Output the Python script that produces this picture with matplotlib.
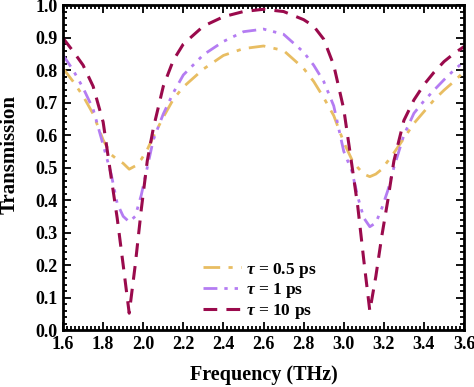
import matplotlib
matplotlib.use("Agg")
import matplotlib.pyplot as plt
from matplotlib.ticker import MultipleLocator, FormatStrFormatter

freq = [1.60, 1.65, 1.70, 1.75, 1.80, 1.84, 1.87, 1.90, 1.93, 1.96, 1.99, 2.02, 2.05,
        2.10, 2.15, 2.20, 2.30, 2.40, 2.50, 2.60, 2.70, 2.80, 2.85, 2.90, 2.95, 3.00,
        3.04, 3.07, 3.10, 3.13, 3.16, 3.19, 3.22, 3.25, 3.30, 3.35, 3.40, 3.45, 3.50,
        3.55, 3.60]

t_05 = [0.805, 0.765, 0.720, 0.665, 0.585, 0.540, 0.525, 0.513, 0.495, 0.505, 0.525,
        0.555, 0.595, 0.655, 0.710, 0.748, 0.803, 0.845, 0.866, 0.874, 0.860, 0.805,
        0.765, 0.715, 0.660, 0.578, 0.525, 0.500, 0.480, 0.472, 0.480, 0.495, 0.520,
        0.545, 0.590, 0.636, 0.672, 0.708, 0.738, 0.765, 0.795]

t_1 = [0.846, 0.800, 0.745, 0.680, 0.570, 0.480, 0.390, 0.350, 0.333, 0.350, 0.415,
       0.500, 0.585, 0.665, 0.730, 0.785, 0.847, 0.888, 0.918, 0.926, 0.910, 0.855,
       0.815, 0.765, 0.690, 0.550, 0.490, 0.410, 0.345, 0.318, 0.330, 0.375, 0.430,
       0.500, 0.600, 0.667, 0.705, 0.738, 0.770, 0.800, 0.826]

t_10 = [0.898, 0.858, 0.815, 0.750, 0.640, 0.470, 0.345, 0.200, 0.052, 0.200, 0.370,
        0.520, 0.620, 0.750, 0.830, 0.880, 0.935, 0.964, 0.980, 0.987, 0.980, 0.955,
        0.935, 0.895, 0.815, 0.680, 0.510, 0.380, 0.215, 0.059, 0.165, 0.290, 0.400,
        0.520, 0.645, 0.708, 0.755, 0.793, 0.826, 0.851, 0.872]

labels = [r"$\tau$ = 0.5 ps", r"$\tau$ = 1 ps", r"$\tau$ = 10 ps"]
xticks = [1.6, 1.8, 2.0, 2.2, 2.4, 2.6, 2.8, 3.0, 3.2, 3.4, 3.6]
yticks = [0.0, 0.1, 0.2, 0.3, 0.4, 0.5, 0.6, 0.7, 0.8, 0.9, 1.0]

plt.rcParams["font.family"] = ["Liberation Serif", "DejaVu Serif"]
plt.rcParams["font.weight"] = "bold"
plt.rcParams["mathtext.fontset"] = "custom"
plt.rcParams["mathtext.it"] = "Liberation Serif:italic:bold"
plt.rcParams["mathtext.rm"] = "Liberation Serif:bold"

fig = plt.figure(figsize=(4.74, 3.87), dpi=100)
ax = fig.add_axes([0.133, 0.147, 0.846, 0.840])

ax.plot(freq, t_05, color="#e8bd62", lw=2.0, dashes=[6, 3, 1.5, 3], label=labels[0])
ax.plot(freq, t_1, color="#b47cf2", lw=2.0, dashes=[5, 2.5, 1.2, 2.5, 1.2, 2.5], label=labels[1])
ax.plot(freq, t_10, color="#9a0a4c", lw=2.2, dashes=[4.5, 3], label=labels[2])

ax.set_xlim(1.6, 3.6)
ax.set_ylim(0.0, 1.0)
ax.set_xticks(xticks)
ax.set_yticks(yticks)
ax.xaxis.set_major_formatter(FormatStrFormatter("%.1f"))
ax.yaxis.set_major_formatter(FormatStrFormatter("%.1f"))
ax.xaxis.set_minor_locator(MultipleLocator(0.02))
ax.yaxis.set_minor_locator(MultipleLocator(0.02))
ax.tick_params(which="both", direction="in", top=True, right=True, width=1.3)
ax.tick_params(which="major", length=6, labelsize=13, pad=4)
ax.tick_params(which="minor", length=3)
for lab in ax.get_xticklabels() + ax.get_yticklabels():
    lab.set_fontweight("bold")
for sp in ax.spines.values():
    sp.set_linewidth(2.0)

ax.set_xlabel("Frequency (THz)", fontsize=14.5, fontweight="bold")
ax.xaxis.set_label_coords(0.5, -0.108)
ax.set_ylabel("Transmission", fontsize=15, fontweight="bold")
ax.yaxis.set_label_coords(-0.108, 0.54)

leg = ax.legend(loc="lower center", bbox_to_anchor=(0.49, -0.02), frameon=False,
                prop={"family": "Liberation Serif", "weight": "bold", "size": 12.5},
                handlelength=2.2, handletextpad=0.25, labelspacing=0.1)

fig.savefig("out.png", dpi=100)
